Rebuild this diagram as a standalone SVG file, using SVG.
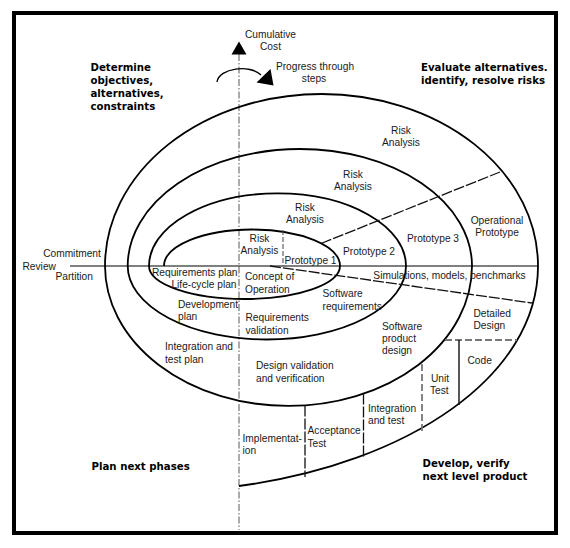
<svg xmlns="http://www.w3.org/2000/svg" width="570" height="548" viewBox="0 0 570 548">
<style>
.t{font-family:"Liberation Sans",Arial,sans-serif;font-size:10.2px;fill:#1a1a1a}
.m{text-anchor:middle}
.b{font-family:"DejaVu Sans",Verdana,sans-serif;font-weight:bold;font-size:10.2px;fill:#000}
.sp{fill:none;stroke:#000;stroke-width:1.8}
.ln{fill:none;stroke:#000;stroke-width:1.2}
.dk{fill:none;stroke:#111;stroke-width:1.3;stroke-dasharray:11,2}
.gr{fill:none;stroke:#777;stroke-width:1.8;stroke-dasharray:7,3}
</style>
<rect x="0" y="0" width="570" height="548" fill="#fff"/>
<g id="frame"><rect x="14" y="13" width="542" height="520" fill="none" stroke="#000" stroke-width="4"/></g>
<g id="connectors">
<line x1="239" y1="54" x2="239" y2="530" stroke="#666" stroke-width="1.1" stroke-dasharray="7,2,1.5,2"/>
<polygon points="231.5,54.5 239,41.5 246.5,54.5" fill="#000"/>
<path d="M217,82 C219,68 250,64 261,75" fill="none" stroke="#000" stroke-width="1.4"/>
<polygon points="256.5,82.5 270.5,69 273.5,85.5" fill="#000"/>
<line x1="70" y1="266" x2="538" y2="266" stroke="#000" stroke-width="1.2"/>
<path class="sp" d="M164,266 A88,36.5 0 0 1 340,266 A95.5,33 0 0 1 149,266 A128.5,72.6 0 0 1 406,266 A139.15,73.5 0 0 1 127.7,266 A172.15,117 0 0 1 472,266 A183.5,140 0 0 1 105,266 A216.5,172 0 0 1 538,266 C538,376 409,463 239,486"/>
<line class="dk" x1="321" y1="243.5" x2="500" y2="172"/>
<line class="dk" x1="270" y1="266" x2="532" y2="303" stroke-dasharray="9,3"/>
<line x1="283" y1="230" x2="283" y2="266" stroke="#555" stroke-width="1.1" stroke-dasharray="5,2"/>
<line class="gr" x1="445" y1="340" x2="517" y2="340"/>
<line x1="459" y1="340" x2="459" y2="405" stroke="#111" stroke-width="1.4"/>
<line class="gr" x1="422" y1="364" x2="422" y2="432"/>
<line class="dk" x1="363.5" y1="393.5" x2="363.5" y2="458.5"/>
<line class="dk" x1="305" y1="405.5" x2="305" y2="477"/>
</g>
<g id="quadrant-labels">
<text class="b"><tspan x="90.5" y="71">Determine</tspan><tspan x="90.5" y="84">objectives,</tspan><tspan x="90.5" y="97">alternatives,</tspan><tspan x="90.5" y="110">constraints</tspan></text>
<text class="b"><tspan x="421" y="71">Evaluate alternatives.</tspan><tspan x="421" y="83.5">identify, resolve risks</tspan></text>
<text class="b" x="91.5" y="470">Plan next phases</text>
<text class="b"><tspan x="422.5" y="467">Develop, verify</tspan><tspan x="422.5" y="479.5">next level product</tspan></text>
</g>
<g id="axis-labels">
<text class="t m"><tspan x="270.5" y="38">Cumulative</tspan><tspan x="270.5" y="49.5">Cost</tspan></text>
<text class="t m"><tspan x="315" y="69.5">Progress through</tspan><tspan x="314" y="81.5">steps</tspan></text>
<text class="t m" x="72" y="257">Commitment</text>
<text class="t" x="22.5" y="270">Review</text>
<text class="t" x="55.5" y="279.5">Partition</text>
</g>
<g id="risk-analysis">
<text class="t m"><tspan x="401" y="133.5">Risk</tspan><tspan x="401" y="145.5">Analysis</tspan></text>
<text class="t m"><tspan x="353" y="178">Risk</tspan><tspan x="353" y="190">Analysis</tspan></text>
<text class="t m"><tspan x="305" y="210.5">Risk</tspan><tspan x="305" y="222.5">Analysis</tspan></text>
<text class="t m"><tspan x="259.5" y="241.5">Risk</tspan><tspan x="259.5" y="254">Analysis</tspan></text>
</g>
<g id="prototypes">
<text class="t m" x="310.5" y="263.5">Prototype 1</text>
<text class="t m" x="369" y="255">Prototype 2</text>
<text class="t m" x="433" y="242">Prototype 3</text>
<text class="t m"><tspan x="497" y="223.5">Operational</tspan><tspan x="497" y="235.5">Prototype</tspan></text>
<text class="t m" x="449.5" y="279">Simulations, models, benchmarks</text>
</g>
<g id="plans">
<text class="t" text-anchor="end"><tspan x="237.5" y="276">Requirements plan</tspan><tspan x="236.5" y="288">Life-cycle plan</tspan></text>
<text class="t"><tspan x="178" y="307.5">Development</tspan><tspan x="178" y="320">plan</tspan></text>
<text class="t"><tspan x="165" y="350">Integration and</tspan><tspan x="165" y="362.5">test plan</tspan></text>
</g>
<g id="development">
<text class="t"><tspan x="245" y="280">Concept of</tspan><tspan x="245" y="293">Operation</tspan></text>
<text class="t"><tspan x="245.5" y="321">Requirements</tspan><tspan x="245.5" y="333.5">validation</tspan></text>
<text class="t"><tspan x="322.5" y="297">Software</tspan><tspan x="322.5" y="309.5">requirements</tspan></text>
<text class="t"><tspan x="382" y="329.5">Software</tspan><tspan x="382" y="341.5">product</tspan><tspan x="382" y="354">design</tspan></text>
<text class="t"><tspan x="473.5" y="316.5">Detailed</tspan><tspan x="473.5" y="329">Design</tspan></text>
<text class="t"><tspan x="256" y="369">Design validation</tspan><tspan x="256" y="381.5">and verification</tspan></text>
<text class="t"><tspan x="242.5" y="441.5">Implementat-</tspan><tspan x="242.5" y="454">ion</tspan></text>
<text class="t"><tspan x="307.5" y="433.5">Acceptance</tspan><tspan x="307.5" y="446.5">Test</tspan></text>
<text class="t"><tspan x="368" y="411.5">Integration</tspan><tspan x="368" y="424">and test</tspan></text>
<text class="t"><tspan x="431" y="381.5">Unit</tspan><tspan x="430" y="394">Test</tspan></text>
<text class="t" x="467.5" y="364">Code</text>
</g>
</svg>
